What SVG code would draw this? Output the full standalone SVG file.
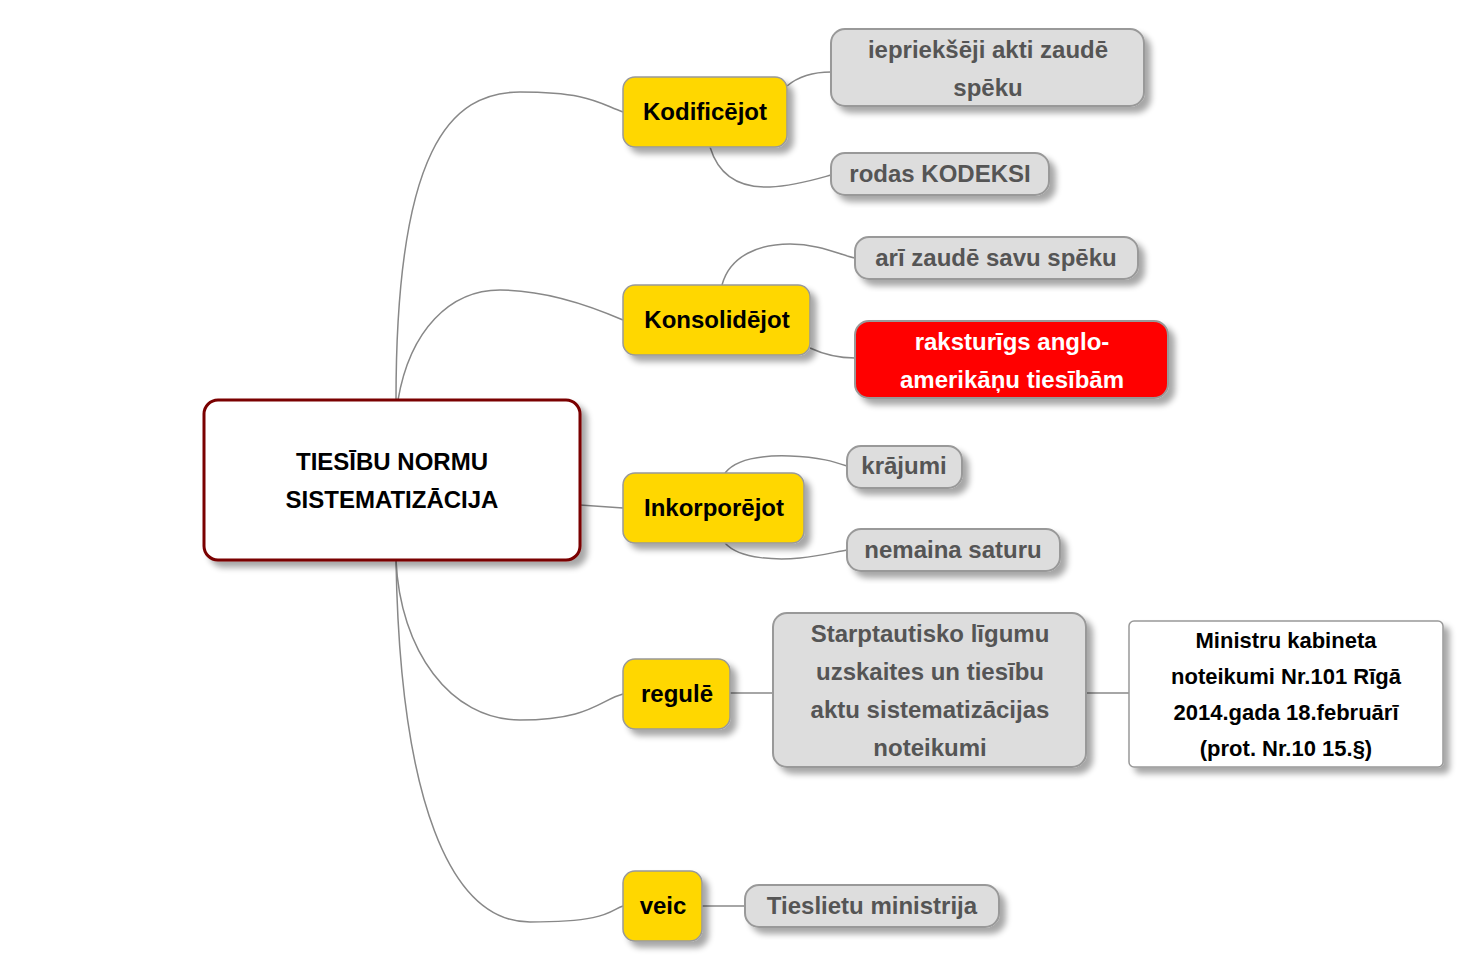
<svg xmlns="http://www.w3.org/2000/svg" width="1474" height="972" viewBox="0 0 1474 972">
<defs>
<filter id="sh" x="-20%" y="-20%" width="140%" height="150%"><feGaussianBlur in="SourceAlpha" stdDeviation="3"/><feOffset dx="6" dy="6"/><feComponentTransfer><feFuncA type="linear" slope="0.35"/></feComponentTransfer><feMerge><feMergeNode/><feMergeNode in="SourceGraphic"/></feMerge></filter>
</defs>
<style>
text{font-family:"Liberation Sans",Arial,sans-serif;font-weight:bold;font-size:24px;text-anchor:middle}
.y rect{fill:#FFD700;stroke:#999;stroke-width:1.5}
.y text{fill:#000}
.g rect{fill:#dddddd;stroke:#999;stroke-width:2}
.g text{fill:#555}
.c path{fill:none;stroke:#888;stroke-width:1.5}
</style>
<rect width="1474" height="972" fill="#fff"/>
<g class="c">
<path d="M396,400 C396,150 450,92 520,92 S600,104 623,112"/>
<path d="M398,400 C410,330 450,290 500,290 S600,310 623,320"/>
<path d="M580,505 L623,508"/>
<path d="M396,560 C400,650 450,720 520,720 S600,700 623,694"/>
<path d="M396,560 C400,800 450,922 530,922 S610,910 623,906"/>
<path d="M787,86 C800,75 815,72 831,72"/>
<path d="M710,147 C720,180 745,188 770,187 S820,178 831,175"/>
<path d="M722,285 C730,255 760,244 790,244 S840,255 855,258"/>
<path d="M810,348 C825,355 840,358 855,358"/>
<path d="M725,473 C735,460 760,455 790,456 S835,462 847,466"/>
<path d="M725,543 C740,560 780,560 800,558 S835,552 847,550"/>
<path d="M730,693 L773,693"/>
<path d="M1086,693 L1129,693"/>
<path d="M702,906 L745,906"/>
</g>
<g id="root"><rect x="204" y="400" width="376" height="160" rx="14" fill="#fff" stroke="#7a0000" stroke-width="3" filter="url(#sh)"/><text x="392" y="470">TIESĪBU NORMU</text><text x="392" y="508">SISTEMATIZĀCIJA</text></g>
<g id="kod" class="y"><rect x="623" y="77" width="164" height="70" rx="12" filter="url(#sh)"/><text x="705" y="120">Kodificējot</text></g>
<g id="kons" class="y"><rect x="623" y="285" width="187" height="70" rx="12" filter="url(#sh)"/><text x="717" y="328">Konsolidējot</text></g>
<g id="ink" class="y"><rect x="623" y="473" width="181" height="70" rx="12" filter="url(#sh)"/><text x="714" y="516">Inkorporējot</text></g>
<g id="reg" class="y"><rect x="623" y="659" width="107" height="70" rx="12" filter="url(#sh)"/><text x="677" y="702">regulē</text></g>
<g id="veic" class="y"><rect x="623" y="871" width="79" height="70" rx="12" filter="url(#sh)"/><text x="663" y="914">veic</text></g>
<g id="iep" class="g"><rect x="831" y="29" width="313" height="77" rx="14" filter="url(#sh)"/><text x="988" y="58">iepriekšēji akti zaudē</text><text x="988" y="96">spēku</text></g>
<g id="rod" class="g"><rect x="831" y="153" width="218" height="42" rx="14" filter="url(#sh)"/><text x="940" y="182">rodas KODEKSI</text></g>
<g id="ari" class="g"><rect x="855" y="237" width="283" height="42" rx="14" filter="url(#sh)"/><text x="996" y="266">arī zaudē savu spēku</text></g>
<g id="rak"><rect x="855" y="321" width="313" height="77" rx="14" fill="#ff0000" stroke="#999" stroke-width="2" filter="url(#sh)"/><text x="1012" y="350" fill="#fff">raksturīgs anglo-</text><text x="1012" y="388" fill="#fff">amerikāņu tiesībām</text></g>
<g id="kra" class="g"><rect x="847" y="446" width="115" height="42" rx="14" filter="url(#sh)"/><text x="904" y="474">krājumi</text></g>
<g id="nem" class="g"><rect x="847" y="529" width="213" height="42" rx="14" filter="url(#sh)"/><text x="953" y="558">nemaina saturu</text></g>
<g id="sta" class="g"><rect x="773" y="613" width="313" height="154" rx="14" filter="url(#sh)"/><text x="930" y="642">Starptautisko līgumu</text><text x="930" y="680">uzskaites un tiesību</text><text x="930" y="718">aktu sistematizācijas</text><text x="930" y="756">noteikumi</text></g>
<g id="min"><rect x="1129" y="621" width="314" height="146" rx="5" fill="#fff" stroke="#999" stroke-width="1.5" filter="url(#sh)"/><g font-size="22"><text x="1286" y="648" style="font-size:22px">Ministru kabineta</text><text x="1286" y="684" style="font-size:22px">noteikumi Nr.101 Rīgā</text><text x="1286" y="720" style="font-size:22px">2014.gada 18.februārī</text><text x="1286" y="756" style="font-size:22px">(prot. Nr.10 15.§)</text></g></g>
<g id="tie" class="g"><rect x="745" y="885" width="254" height="42" rx="14" filter="url(#sh)"/><text x="872" y="914">Tieslietu ministrija</text></g>
</svg>
